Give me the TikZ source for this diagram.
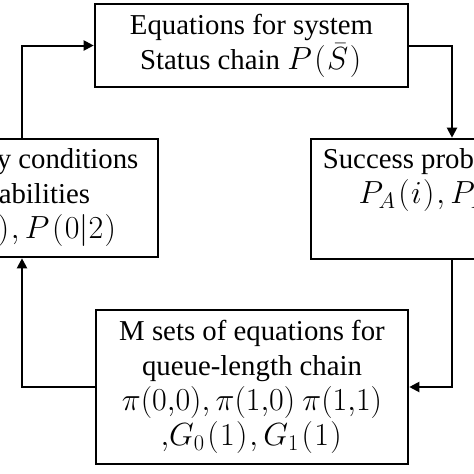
\RequirePackage{fix-cm}
\documentclass[tikz,border=0pt]{standalone}
\usepackage{fontspec}
\setmainfont{Liberation Serif}
\DeclareMathSizes{28.8}{32}{22.4}{16}
\usetikzlibrary{arrows.meta}
\newcommand\lpar{\mkern1.5mu(\mkern0.8mu}
\newcommand\rpar{\mkern0.8mu)\mkern1mu}
\begin{document}
\begin{tikzpicture}[x=1pt,y=-1pt,
  box/.style={draw,line width=2.6pt,align=center,inner sep=0pt,
    font=\fontsize{28.8}{35}\selectfont},
  link/.style={line width=2pt,-{Triangle[length=10pt,width=10pt]}}]
\useasboundingbox (0,0) rectangle (474,474);
\clip (0,0) rectangle (474,474);
\fill[white] (0,0) rectangle (474,474);
\node[box,minimum width=313pt,minimum height=83pt] (top) at (251.5,45.5)
  {Equations for system\\Status chain $P\lpar\bar{S}\rpar$};
\node[box,minimum width=280pt,minimum height=118pt] (lb) at (18,198)
  {Boundary conditions\\probabilities\\$P\lpar 0|1\rpar, P\lpar 0|2\rpar$};
\node[box,minimum width=266pt,minimum height=120pt] (rb) at (444,199)
  {Success probabilities\\$P_A\lpar i\rpar, P_B\lpar i\rpar$\\\strut};
\node[box,minimum width=312pt,minimum height=154pt] (bot) at (252,387)
  {M sets of equations for\\queue-length chain\\$\pi(0{,}0), \pi(1{,}0)\ \pi(1{,}1)$\\${,}G_0\lpar 1\rpar, G_1\lpar 1\rpar$};
\coordinate (xl) at (22,0);
\coordinate (xr) at (452,0);
\draw[link] (lb.north -| xl) |- (top.west);
\draw[link] (top.east) -| (rb.north -| xr);
\draw[link] (rb.south -| xr) |- (bot.east);
\draw[link] (bot.west) -| (lb.south -| xl);
\end{tikzpicture}
\end{document}
